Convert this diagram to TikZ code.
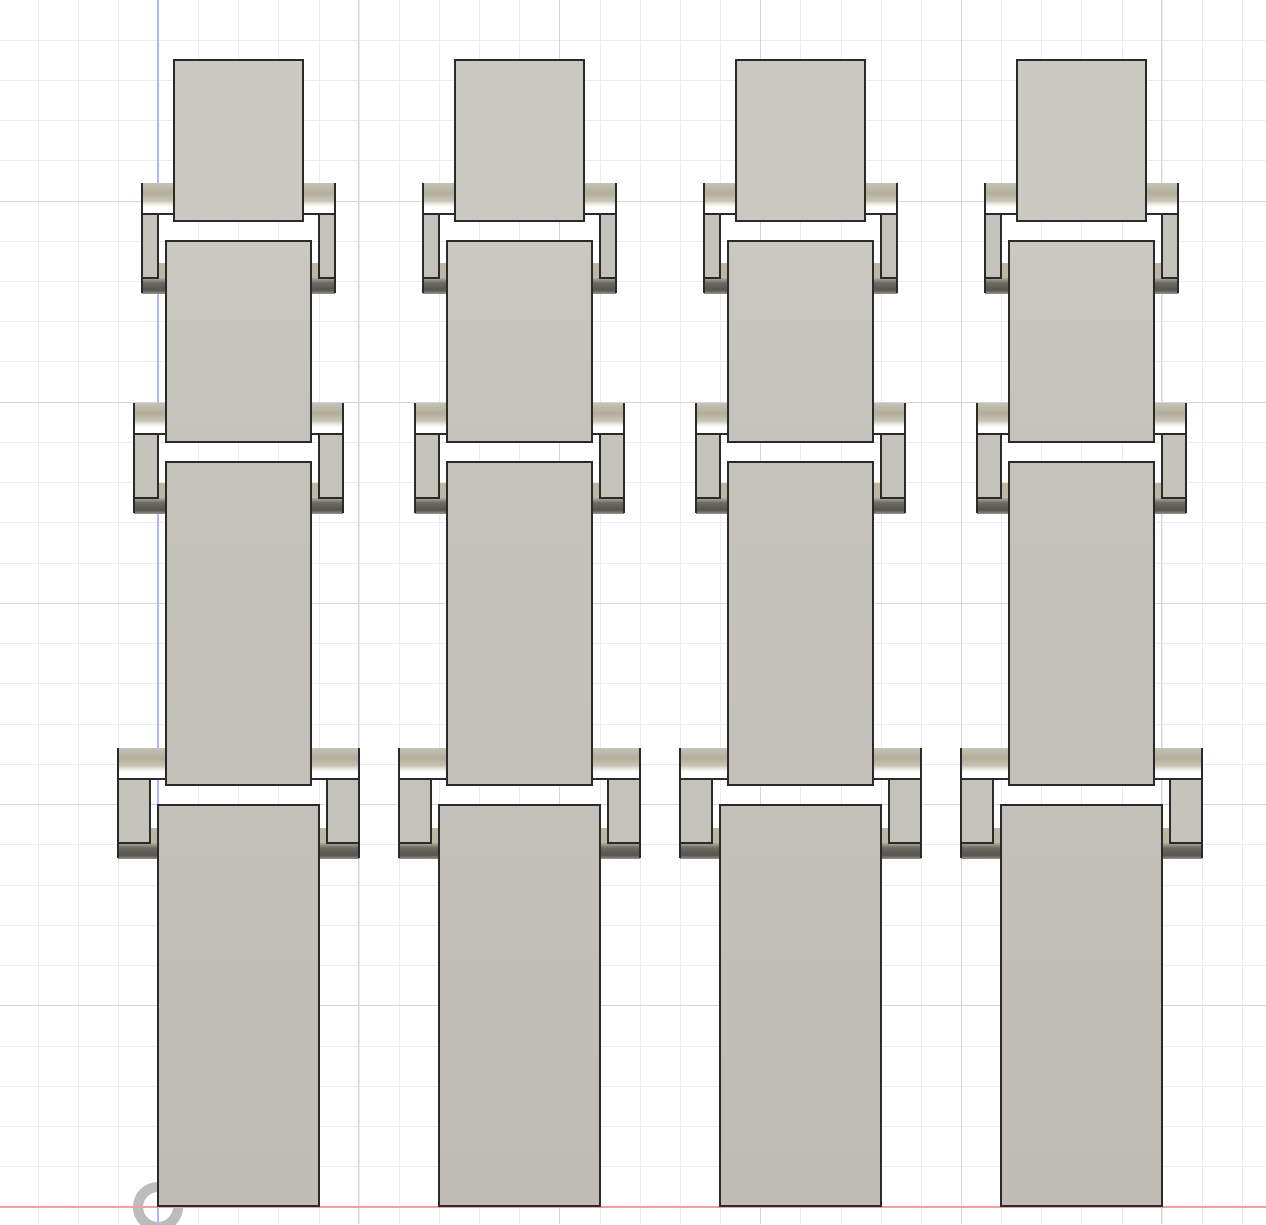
\documentclass[tikz,border=0pt]{standalone}
\usepackage{amsmath}

% Цвета модели и сетки
\definecolor{gridminor}{HTML}{ECECEC}
\definecolor{gridmajor}{HTML}{D6D6D6}
\definecolor{axisblue}{HTML}{B4B4FF}
\definecolor{axisred}{HTML}{F0A0A0}
\definecolor{ringgrey}{HTML}{BCBCBC}
\definecolor{platefill}{HTML}{C4C3BB}
\definecolor{stubfill}{HTML}{BDB6A2}
\definecolor{edgeline}{HTML}{2A2A2A}
\definecolor{blocktop}{HTML}{C9C8C1}
\definecolor{blockmid}{HTML}{C4C3BB}
\definecolor{blocklow}{HTML}{C2C0B9}
\definecolor{blockend}{HTML}{BEBCB4}
\definecolor{barpale}{HTML}{C9C5B6}
\definecolor{barfade}{HTML}{F0EFE8}
\definecolor{bartan}{HTML}{B4AD9A}
\definecolor{bargrey}{HTML}{C4C1B6}
\definecolor{lowedge}{HTML}{8C8C84}
\definecolor{lowdark}{HTML}{55554E}
\definecolor{lowmid}{HTML}{6B6A62}
\definecolor{lowlight}{HTML}{A8A79C}

% Заливка цилиндров
\pgfdeclareverticalshading{barupper}{100bp}{
	color(0bp)=(white); color(25bp)=(white); color(36bp)=(white);
	color(41bp)=(barfade); color(47bp)=(barpale); color(59bp)=(bartan);
	color(75bp)=(bargrey); color(100bp)=(bargrey)}
\pgfdeclareverticalshading{barlower}{100bp}{
	color(0bp)=(lowedge); color(25bp)=(lowedge); color(36bp)=(lowdark);
	color(60bp)=(lowmid); color(75bp)=(lowlight); color(100bp)=(lowlight)}

\tikzset{
	block/.style={draw=edgeline, line width=1.2pt},
	plate/.style={draw=edgeline, line width=1.1pt, fill=platefill},
	stub/.style={fill=stubfill}
}

% Пара шарниров: половина ширины, ширина пластины, верх
\newcommand{\hingepair}[3]{
	\foreach \side in {-1,1}{
		\begin{scope}[xscale=\side]
			\fill[stub] (#1-#2,#3+80) rectangle (50,#3+95);
			\shade[shading=barupper] (#1,#3) rectangle (50,#3+31);
			\shade[shading=barlower] (#1,#3+95) rectangle (50,#3+110);
			\draw[edgeline, line width=1.1pt] (#1,#3) -- (#1,#3+110);
			\draw[edgeline, line width=1.1pt] (#1,#3+31) -- (50,#3+31);
			\draw[plate] (#1,#3+31) rectangle (#1-#2,#3+95);
		\end{scope}
	}
}

\begin{document}
\begin{tikzpicture}[x=1pt, y=-1pt]
	\useasboundingbox (0,0) rectangle (1266,1224);
	\fill[white] (0,0) rectangle (1266,1224);

	% Сетка
	\foreach \i in {0,...,30}{
		\draw[gridminor, line width=1pt] ({38+40.15*\i},0) -- ({38+40.15*\i},1224);
		\draw[gridminor, line width=1pt] (0,{1207-40.24*\i}) -- (1266,{1207-40.24*\i});
	}
	\foreach \i in {1,...,5}{
		\draw[gridmajor, line width=1pt] ({158+200.75*\i},0) -- ({158+200.75*\i},1224);
	}
	\foreach \i in {1,...,6}{
		\draw[gridmajor, line width=1pt] (0,{1207-201.2*\i}) -- (1266,{1207-201.2*\i});
	}

	% Оси и кольцо начала координат
	\draw[ringgrey, line width=10pt] (158,1207) circle (20);
	\draw[axisblue, line width=1.4pt] (158,0) -- (158,1224);
	\draw[axisred, line width=1.2pt] (0,1207) -- (1266,1207);

	% Четыре одинаковых столбца
	\foreach \col in {0,1,2,3}{
		\begin{scope}[xshift={(238.5+281*\col)*1pt}]
			% Шарниры
			\hingepair{96.5}{16}{183}
			\hingepair{104.5}{24}{403}
			\hingepair{120.5}{32}{748}

			% Звенья
			\draw[block, top color=blocktop, bottom color=blocktop] (-64.5,60) rectangle (64.5,221);
			\draw[block, top color=blocktop, bottom color=blockmid] (-72.5,241) rectangle (72.5,442);
			\draw[block, top color=blockmid, bottom color=blocklow] (-72.5,462) rectangle (72.5,785);
			\draw[block, top color=blocklow, bottom color=blockend] (-80.5,805) rectangle (80.5,1206);
		\end{scope}
	}
\end{tikzpicture}
\end{document}
